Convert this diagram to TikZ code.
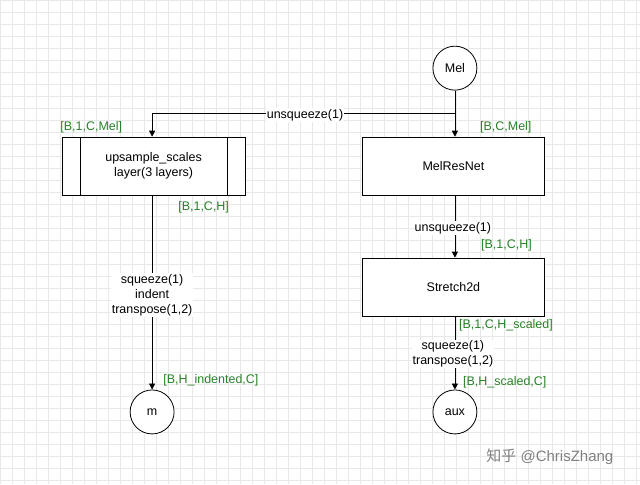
\documentclass[tikz,border=0pt]{standalone}
\usepackage{fontspec}
\setmainfont{Liberation Sans}
\newfontfamily\cjk{Noto Sans CJK SC}
\usetikzlibrary{arrows.meta}
\definecolor{lg}{RGB}{40,130,40}
\begin{document}
\begin{tikzpicture}[x=1pt,y=-1pt,font=\fontsize{12.5}{15}\selectfont,
 box/.style={draw,thick,minimum width=183pt,minimum height=58pt,align=center,fill=white},
 circ/.style={draw,thick,circle,minimum size=44pt,fill=white,inner sep=0pt},
 arr/.style={thick,-{Triangle[length=6pt,width=6pt]}},
 lab/.style={fill=white,align=center,inner sep=1pt},
 dim/.style={text=lg,anchor=west,inner sep=0pt}]
\fill[white] (0,0) rectangle (640,484);
\foreach \i in {0,12,...,640} \draw[gray!18] (\i,0) -- (\i,484);
\foreach \i in {0,12,...,484} \draw[gray!18] (0,\i) -- (640,\i);
\node[circ] (mel) at (455,68) {Mel};
\node[box] (up) at (153.5,166) {upsample\_scales\\layer(3 layers)};
\draw[thick] (80,137) -- (80,195) (227,137) -- (227,195);
\node[box] (mrn) at (453.5,166) {MelResNet};
\node[box] (st) at (453.5,287) {Stretch2d};
\node[circ] (m) at (152,412) {m};
\node[circ] (aux) at (455,412) {aux};
\coordinate (j) at (455,113);
\coordinate (jl) at (152,113);
\draw[arr] (mel) -- (mel|-mrn.north);
\draw[arr] (j) -- (jl) -- (jl|-up.north);
\node[lab] (u1) at (305,115) {unsqueeze(1)};
\draw[arr] (m|-up.south) -- (m);
\node[lab] (s1) at (152,295) {squeeze(1)\\indent\\transpose(1,2)};
\draw[arr] (mrn.south-|mel) -- (mel|-st.north);
\node[lab] (u2) at (453,228) {unsqueeze(1)};
\draw[arr] (st.south-|mel) -- (aux);
\node[lab] (s2) at (453,354) {squeeze(1)\\transpose(1,2)};
\node[dim] at (60,127) {[B,1,C,Mel]};
\node[dim] at (480,127) {[B,C,Mel]};
\node[dim] at (178,207) {[B,1,C,H]};
\node[dim] at (163,380) {[B,H\_indented,C]};
\node[dim] at (481,245) {[B,1,C,H]};
\node[dim] at (459,325) {[B,1,C,H\_scaled]};
\node[dim] at (463,382) {[B,H\_scaled,C]};
\node[text=gray,font=\fontsize{15}{17}\selectfont] at (550,457) {{\cjk 知乎} @ChrisZhang};
\end{tikzpicture}
\end{document}
